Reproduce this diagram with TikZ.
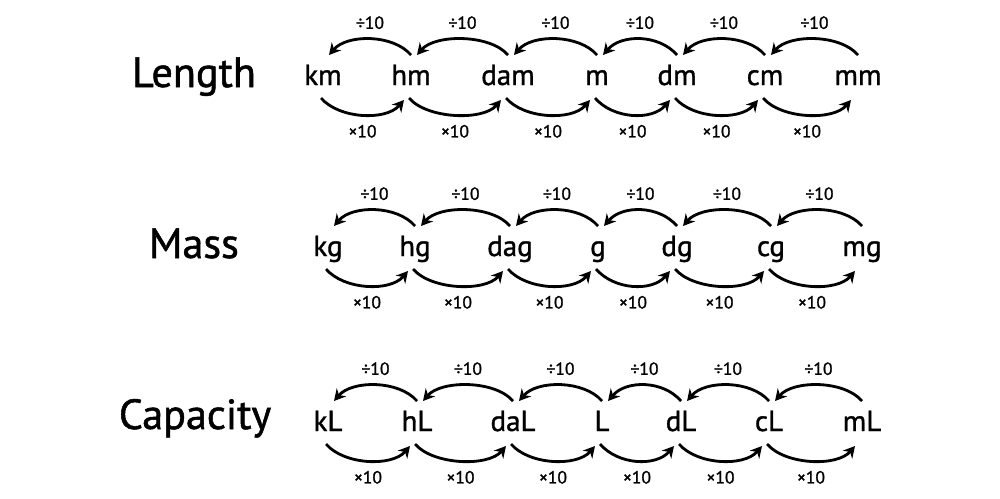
\documentclass[tikz,border=0pt]{standalone}
\usepackage{fontspec}
\setmainfont{PT Sans}[FakeBold=1.2]
\usetikzlibrary{calc,arrows.meta}

\tikzset{
  qty/.style={anchor=base, inner sep=0pt, font=\fontsize{24}{26}\selectfont},
  unit/.style={anchor=base, inner sep=0pt, font=\fontsize{16.5}{18}\selectfont},
  conv/.style={line width=1.6pt, -{Stealth[length=6.5pt,width=7pt]}},
  factor/.style={inner sep=0pt, font=\fontsize{10}{12}\selectfont}
}

\begin{document}
\begin{tikzpicture}[x=0.02cm, y=-0.02cm]

\useasboundingbox (0,0) rectangle (1000,498);

% --------- Length row ----------
\node[qty] (tlen) at (194,87) {Length};
\foreach \n/\x/\u in {1/323/km, 2/411/hm, 3/508/dam, 4/597/m, 5/677/dm, 6/765/cm, 7/858/mm}
  \node[unit] (len\n) at (\x,85) {\u};

% --------- Mass row ----------
\node[qty] (tmas) at (194,258) {Mass};
\foreach \n/\x/\u in {1/328/kg, 2/415/hg, 3/510/dag, 4/598/g, 5/677/dg, 6/771/cg, 7/862/mg}
  \node[unit] (mas\n) at (\x,256) {\u};

% --------- Capacity row ----------
\node[qty] (tcap) at (195,429) {Capacity};
\foreach \n/\x/\u in {1/328/kL, 2/417/hL, 3/513/daL, 4/602/L, 5/681/dL, 6/769/cL, 7/862/mL}
  \node[unit] (cap\n) at (\x,431) {\u};

% --------- Arcs: divide going up-left, multiply going down-right ----------
\foreach \r in {len,mas,cap}{
  \foreach \a/\b in {1/2, 2/3, 3/4, 4/5, 5/6, 6/7}{
    \draw[conv] ($(\r\b.base)+(0,-30)$) .. controls +(-18,-21) and +(18,-21) ..
      node[factor, above=5pt] {÷10} ($(\r\a.base)+(6,-30)$);
    \draw[conv] ($(\r\a.base)+(-2,13)$) .. controls +(18,21) and +(-18,21) ..
      node[factor, below=5pt] {×10} ($(\r\b.base)+(-7,15)$);
  }
}

\end{tikzpicture}
\end{document}
